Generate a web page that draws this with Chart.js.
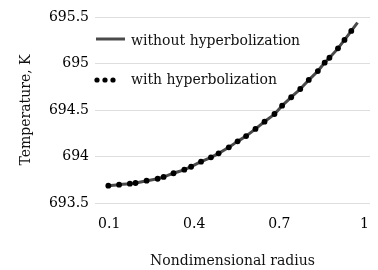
<!DOCTYPE html>
<html>
<head>
<meta charset="utf-8">
<script src="https://cdn.jsdelivr.net/npm/chart.js@4.4.1/dist/chart.umd.min.js"></script>
<style>
  html, body { margin: 0; padding: 0; background: #fff; }
  #wrap { width: 378px; height: 270px; }
</style>
</head>
<body>
<div id="wrap"><canvas id="chart" width="378" height="270"></canvas></div>
<script>
// datos
const dotRadius = [0.097, 0.135, 0.173, 0.193, 0.232, 0.271, 0.292, 0.327, 0.365, 0.389,
  0.424, 0.459, 0.486, 0.522, 0.553, 0.583, 0.616, 0.648, 0.683, 0.710,
  0.742, 0.774, 0.804, 0.836, 0.860, 0.877, 0.907, 0.930, 0.954];
const dotTemp = [693.686, 693.697, 693.708, 693.715, 693.740, 693.761, 693.780, 693.820, 693.858, 693.890,
  693.944, 693.991, 694.034, 694.099, 694.163, 694.220, 694.296, 694.374, 694.457, 694.546,
  694.637, 694.726, 694.823, 694.919, 695.009, 695.062, 695.163, 695.253, 695.350];
const lineRadius = [0.097, 0.135, 0.173, 0.193, 0.232, 0.271, 0.292, 0.327, 0.365, 0.389,
  0.424, 0.459, 0.486, 0.522, 0.553, 0.583, 0.616, 0.648, 0.683, 0.710,
  0.742, 0.774, 0.804, 0.836, 0.860, 0.877, 0.907, 0.930, 0.954, 0.976];
const lineTemp = [693.686, 693.697, 693.708, 693.715, 693.740, 693.761, 693.780, 693.820, 693.858, 693.890,
  693.944, 693.991, 694.034, 694.099, 694.163, 694.220, 694.296, 694.374, 694.457, 694.546,
  694.637, 694.726, 694.823, 694.919, 695.009, 695.062, 695.163, 695.253, 695.350, 695.440];
const xTicks = [0.1, 0.4, 0.7, 1];
const yTicks = [693.5, 694, 694.5, 695, 695.5];
const seriesNames = ['without hyperbolization', 'with hyperbolization'];

const FONT = "'DejaVu Serif', serif";
const lineColor = '#4a4a4a';

// leyenda dentro del area del grafico
const legendInside = {
  id: 'legendInside',
  afterDraw(chart) {
    const { ctx, chartArea } = chart;
    const x0 = chartArea.left;
    ctx.save();
    ctx.strokeStyle = lineColor;
    ctx.lineWidth = 3;
    ctx.beginPath();
    ctx.moveTo(x0 + 1, chartArea.top + 22);
    ctx.lineTo(x0 + 30, chartArea.top + 22);
    ctx.stroke();
    ctx.fillStyle = '#000';
    [2, 10, 18].forEach(dx => {
      ctx.beginPath();
      ctx.arc(x0 + dx, chartArea.top + 63, 2.6, 0, Math.PI * 2);
      ctx.fill();
    });
    ctx.font = '14px ' + FONT;
    ctx.fillStyle = '#111';
    ctx.textBaseline = 'alphabetic';
    ctx.fillText(seriesNames[0], x0 + 36, chartArea.top + 28);
    ctx.fillText(seriesNames[1], x0 + 36, chartArea.top + 67);
    ctx.restore();
  }
};

new Chart(document.getElementById('chart').getContext('2d'), {
  type: 'scatter',
  data: {
    datasets: [
      {
        label: seriesNames[0],
        data: lineRadius.map((r, i) => ({ x: r, y: lineTemp[i] })),
        showLine: true,
        borderColor: lineColor,
        borderWidth: 3,
        pointRadius: 0,
        cubicInterpolationMode: 'monotone',
        order: 2
      },
      {
        label: seriesNames[1],
        data: dotRadius.map((r, i) => ({ x: r, y: dotTemp[i] })),
        showLine: false,
        backgroundColor: '#000',
        borderColor: '#000',
        pointRadius: 2.9,
        borderWidth: 0,
        order: 1
      }
    ]
  },
  options: {
    responsive: false,
    animation: false,
    layout: { padding: { top: 17, right: 8, left: 0, bottom: 0 } },
    plugins: { legend: { display: false }, tooltip: { enabled: false } },
    scales: {
      x: {
        type: 'linear',
        min: 0.05,
        max: 1.02,
        afterBuildTicks: axis => { axis.ticks = xTicks.map(v => ({ value: v })); },
        afterFit: axis => { axis.height = 67; },
        grid: { display: false },
        border: { display: false },
        ticks: {
          color: '#000',
          font: { family: FONT, size: 14 },
          padding: 5,
          maxRotation: 0,
          callback: v => String(v)
        },
        title: {
          display: true,
          text: 'Nondimensional radius',
          color: '#111',
          font: { family: FONT, size: 14 },
          padding: { top: 0, bottom: 0 }
        }
      },
      y: {
        min: 693.5,
        max: 695.5,
        afterBuildTicks: axis => { axis.ticks = yTicks.map(v => ({ value: v })); },
        afterFit: axis => { axis.width = 95; },
        grid: { color: '#dedede', lineWidth: 1, drawTicks: false },
        border: { display: false },
        ticks: {
          color: '#000',
          font: { family: FONT, size: 14 },
          padding: 6,
          callback: v => String(v)
        },
        title: {
          display: true,
          text: 'Temperature, K',
          color: '#111',
          font: { family: FONT, size: 14 },
          padding: { top: 18, bottom: 0 }
        }
      }
    }
  },
  plugins: [legendInside]
});
</script>
</body>
</html>
